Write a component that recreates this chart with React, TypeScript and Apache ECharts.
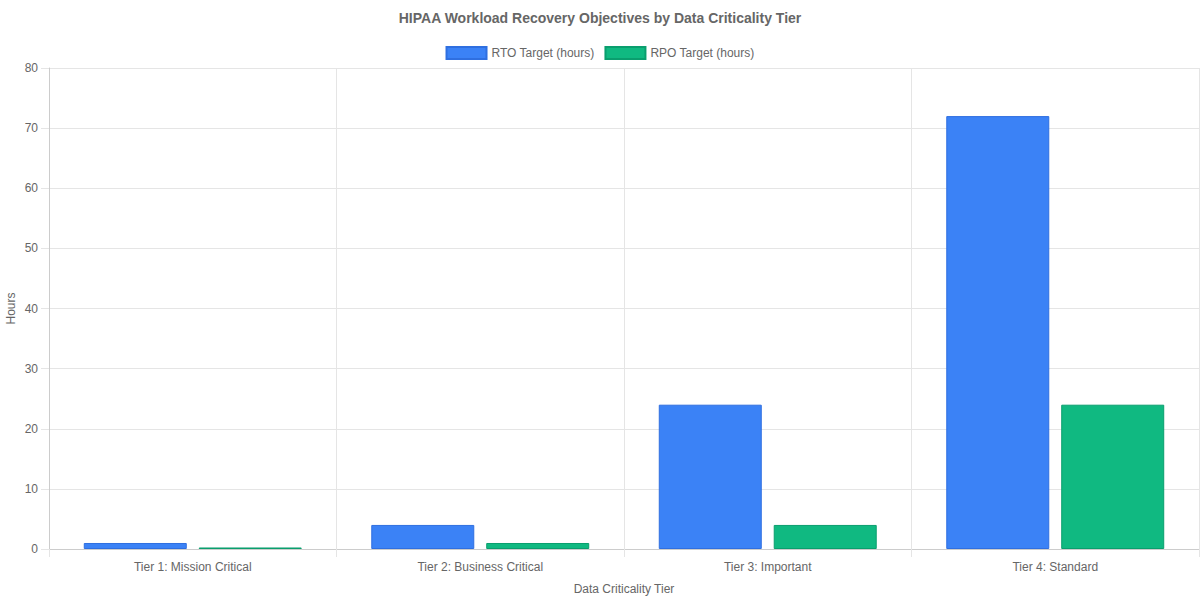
import React, { useEffect, useRef } from "react";
import * as echarts from "echarts";

const categories = [
  "Tier 1: Mission Critical",
  "Tier 2: Business Critical",
  "Tier 3: Important",
  "Tier 4: Standard",
];
const rtoValues = [1, 4, 24, 72];
const rpoValues = [0.25, 1, 4, 24];
const seriesNames = ["RTO Target (hours)", "RPO Target (hours)"];

const FONT = "'Liberation Sans', Arial, Helvetica, sans-serif";

export default function App() {
  const ref = useRef<HTMLDivElement>(null);
  useEffect(() => {
    if (!ref.current) return;
    const chart = echarts.init(ref.current, undefined, { renderer: "svg" });
    chart.setOption({
      animation: false,
      textStyle: { fontFamily: FONT },
      title: {
        text: "HIPAA Workload Recovery Objectives by Data Criticality Tier",
        left: "center",
        top: 6,
        textStyle: { fontSize: 14, fontWeight: "bold", color: "#666", fontFamily: FONT },
      },
      legend: {
        top: 41,
        left: "center",
        itemWidth: 40,
        itemHeight: 12,
        itemGap: 10,
        icon: "rect",
        textStyle: { fontSize: 12, color: "#666", fontFamily: FONT },
        data: seriesNames,
      },
      grid: { left: 49, right: 1, top: 68, bottom: 51, containLabel: false, outerBoundsMode: "none" },
      xAxis: {
        type: "category",
        data: categories,
        name: "Data Criticality Tier",
        nameLocation: "middle",
        nameGap: 34,
        nameTextStyle: { fontSize: 12, color: "#666", fontFamily: FONT },
        axisLine: { show: true, lineStyle: { color: "#ccc" } },
        axisTick: { show: true, length: 8, lineStyle: { color: "#e5e5e5" } },
        axisLabel: { fontSize: 12, color: "#666", margin: 12, fontFamily: FONT },
        splitLine: { show: true, lineStyle: { color: "#e5e5e5" } },
      },
      yAxis: {
        type: "value",
        min: 0,
        max: 80,
        interval: 10,
        name: "Hours",
        nameLocation: "middle",
        nameGap: 32,
        nameMoveOverlap: false,
        nameTextStyle: { fontSize: 12, color: "#666", fontFamily: FONT },
        axisLine: { show: true, lineStyle: { color: "#ccc" } },
        axisTick: { show: true, length: 8, lineStyle: { color: "#e5e5e5" } },
        axisLabel: { fontSize: 12, color: "#666", margin: 11, fontFamily: FONT },
        splitLine: { show: true, lineStyle: { color: "#e5e5e5" } },
      },
      series: [
        {
          name: seriesNames[0],
          type: "bar",
          data: rtoValues,
          barWidth: 103,
          barGap: "11.6%",
          itemStyle: { color: "#3b82f6", borderColor: "#2f6fe0", borderWidth: 1 },
        },
        {
          name: seriesNames[1],
          type: "bar",
          data: rpoValues,
          barWidth: 103,
          itemStyle: { color: "#10b981", borderColor: "#0a9e6e", borderWidth: 1 },
        },
      ],
    });
    return () => chart.dispose();
  }, []);
  return (
    <div
      ref={ref}
      style={{ position: "fixed", left: 0, top: 0, width: 1200, height: 600, background: "#fff" }}
    />
  );
}
